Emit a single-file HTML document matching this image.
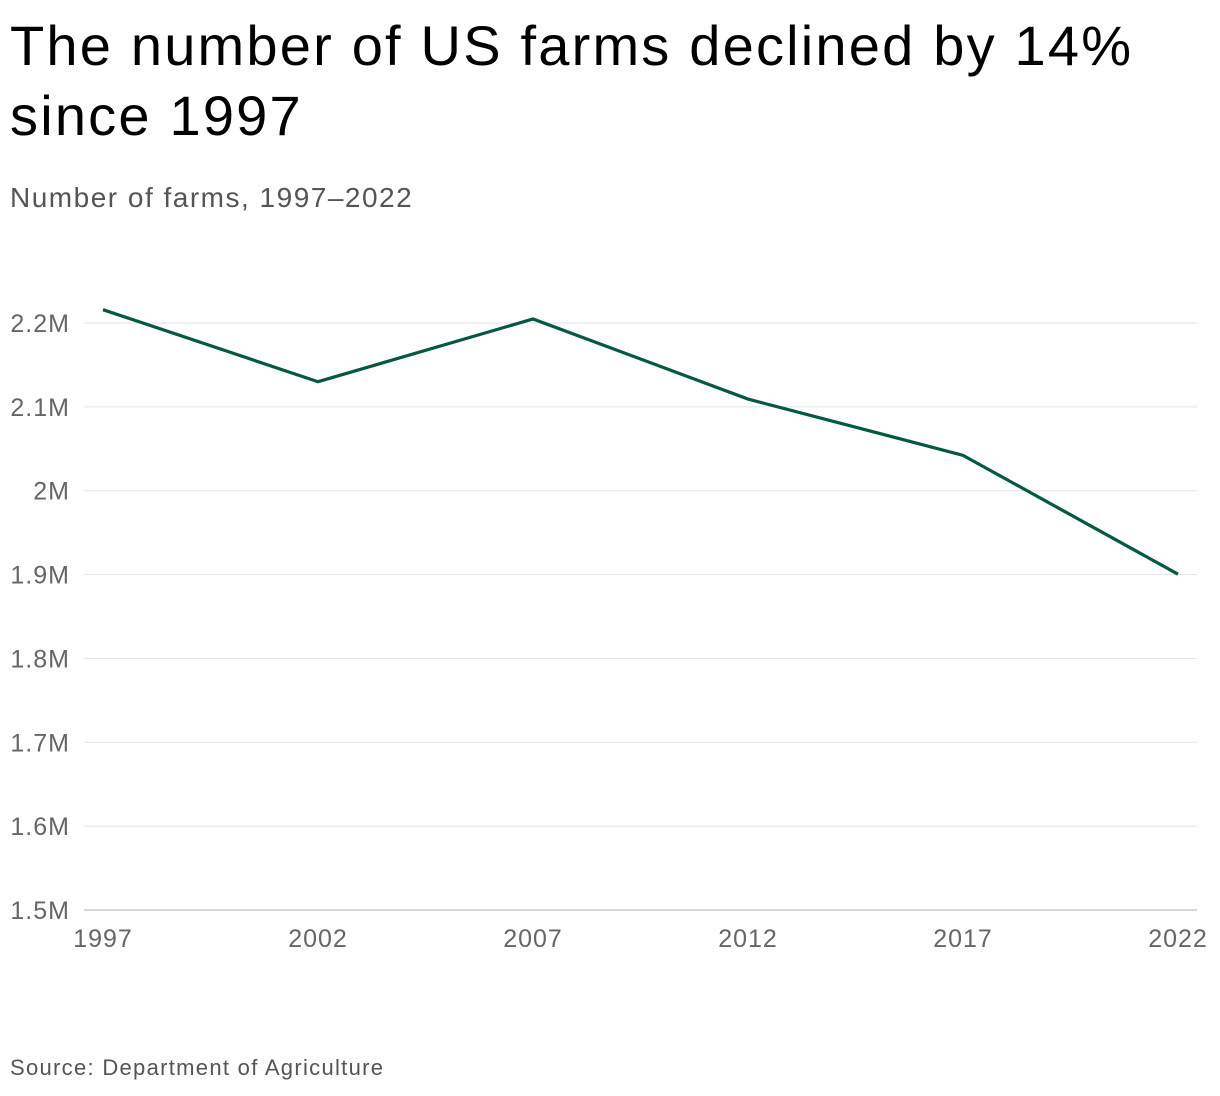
<!DOCTYPE html>
<html><head><meta charset="utf-8"><style>
body{margin:0;background:#fff;width:1220px;height:1096px;overflow:hidden;font-family:"Liberation Sans",sans-serif}
h1{position:absolute;left:10px;top:11px;margin:0;font-size:56px;font-weight:500;line-height:70px;color:#000;letter-spacing:2.2px;white-space:nowrap}
.sub{position:absolute;left:10px;top:182px;font-size:28px;color:#555;letter-spacing:1.5px}
.src{position:absolute;left:10px;top:1055px;font-size:22px;color:#555;letter-spacing:1.3px}
svg{position:absolute;left:0;top:0}
</style></head><body>
<h1>The number of US farms declined by 14%<br>since 1997</h1>
<div class="sub">Number of farms, 1997–2022</div>
<svg id="c" width="1220" height="1096"></svg>
<div class="src">Source: Department of Agriculture</div>
<script>
const years=[1997,2002,2007,2012,2017,2022];
const farms=[2215876,2129982,2204792,2109303,2042220,1900487];
const yTicks=[1500000,1600000,1700000,1800000,1900000,2000000,2100000,2200000];
const yTickLabels=["1.5M","1.6M","1.7M","1.8M","1.9M","2M","2.1M","2.2M"];
const NS="http://www.w3.org/2000/svg";
const svg=document.getElementById('c');
const x=v=>103+(v-1997)/(2022-1997)*(1178-103);
const y=v=>910-(v-1500000)/700000*(910-323);
function mk(t,a){const e=document.createElementNS(NS,t);for(const k in a)e.setAttribute(k,a[k]);svg.appendChild(e);return e;}
yTicks.forEach((t,i)=>{
  const l=mk('line',{x1:84,x2:1197,y1:y(t),y2:y(t),stroke:i===0?'#ccc':'#e3e3e3','stroke-width':i===0?1.5:1});
  
  
  const tx=mk('text',{x:70,y:y(t)+9,'text-anchor':'end','font-size':25,'letter-spacing':1,fill:'#666','font-family':'Liberation Sans, sans-serif'});
  tx.textContent=yTickLabels[i];
  
  
});
years.forEach(yr=>{
  const tx=mk('text',{x:x(yr),y:947,'text-anchor':'middle','font-size':25,'letter-spacing':1,fill:'#666','font-family':'Liberation Sans, sans-serif'});
  tx.textContent=yr;
  
  
});
const p=mk('polyline',{points:years.map((yr,i)=>x(yr)+','+y(farms[i])).join(' '),fill:'none',stroke:'#065743','stroke-width':3.2,'stroke-linejoin':'miter'});


</script>
</body></html>
